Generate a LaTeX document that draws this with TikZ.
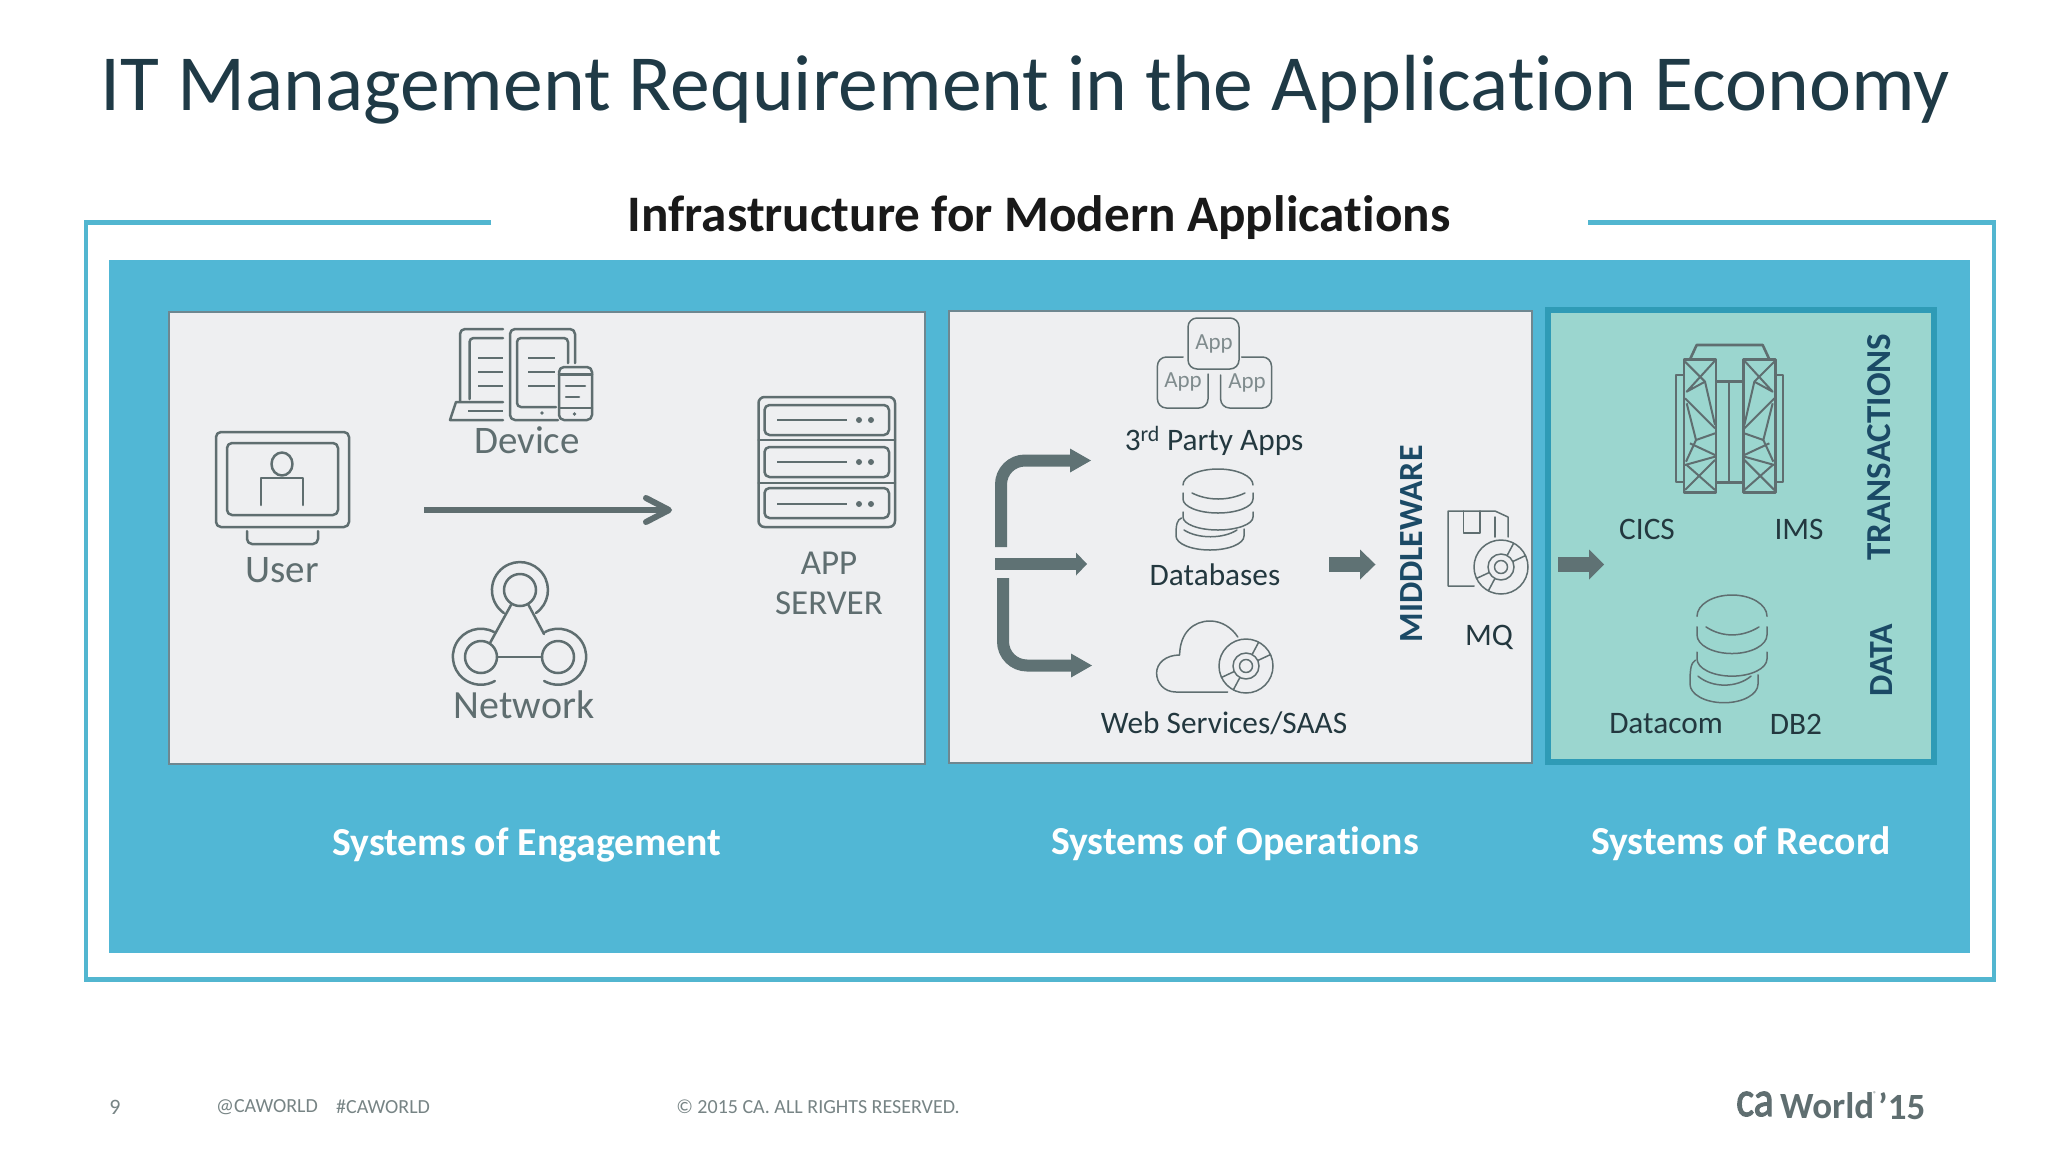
\documentclass[tikz,border=0pt]{standalone}
\usepackage{fontspec}
\setmainfont[Ligatures=NoCommon]{Carlito}
\newfontfamily\logof[FakeBold=2.5]{Carlito}
\definecolor{framec}{HTML}{52B6D0}
\definecolor{bluep}{HTML}{51B7D5}
\definecolor{panelf}{HTML}{EEEFF1}
\definecolor{panelb}{HTML}{6E8790}
\definecolor{greenf}{HTML}{9BD6CF}
\definecolor{greenb}{HTML}{2F9BB6}
\definecolor{icon}{HTML}{5F6E70}
\definecolor{iconb}{HTML}{5F7274}
\definecolor{darktxt}{HTML}{23383F}
\definecolor{navy}{HTML}{1B4A66}
\definecolor{titlec}{HTML}{1F3A46}
\newcommand{\fs}[1]{\fontsize{#1}{#1}\selectfont}
\tikzset{
  ic/.style={draw=icon,line width=2.5pt,line cap=round,line join=round},
  ict/.style={draw=icon,line width=1.5pt,line cap=round,line join=round},
  icthick/.style={draw=icon,line width=2.6pt,line join=round},
  panel/.style={draw=panelb,line width=2pt,fill=panelf},
  lab/.style={inner sep=0pt,text=icon,font=\fs{39}},
  labd/.style={inner sep=0pt,text=darktxt,font=\fs{31.3}},
  vert/.style={inner sep=0pt,text=navy,rotate=90,font=\fs{33.8}\bfseries},
  sys/.style={inner sep=0pt,text=white,font=\fs{39.7}\bfseries},
  foot/.style={inner sep=0pt,text=icon!85!white,font=\fs{20}},
  stem/.style={draw=iconb,line width=12pt},
  apptxt/.style={inner sep=0pt,text=icon!80!white,font=\fs{23}},
}
% database icon: top centre at (#1,#2), vertical scale #3
\newcommand{\dbicon}[3]{%
\begin{scope}[shift={(#1,#2)},yscale=#3]
\draw[ict] (-35,16) arc[start angle=180,end angle=360,x radius=35,y radius=16];
\draw[ict] (-26,24) .. controls (-10,32) and (10,32) .. (27,24);
\draw[ict] (-35,24) -- (-35,30) arc[start angle=180,end angle=0,x radius=35,y radius=14] -- (35,24);
\draw[ict] (-35,43) -- (-35,48) arc[start angle=180,end angle=0,x radius=35,y radius=13] -- (35,43);
\draw[ict] (-36.5,49) .. controls (-41,51) and (-42,55) .. (-42,67) arc[start angle=180,end angle=0,x radius=34,y radius=14] -- (26,60);
\draw[ict] (-34,61) .. controls (-20,70) and (5,70) .. (19,61);
\end{scope}}
% disc icon
\newcommand{\discicon}[2]{%
\begin{scope}[shift={(#1,#2)}]
\draw[ict] (0,0) circle[radius=27];
\draw[ict] (0,0) circle[radius=13];
\draw[ict] (0,0) circle[radius=6.5];
\foreach \a in {-25,-62,155,118}{\draw[ict] (\a:13) -- (\a:27);}
\end{scope}}
% one tower of the mainframe, in 3x zoom units
\newcommand{\tower}{%
\draw[icthick] (42,58) rectangle (138,458);
\draw[icthick,line width=2pt] (42,105) -- (18,105) -- (18,425) -- (42,425);
\draw[icthick,line width=2pt] (45,65) -- (105,125) -- (135,255);
\draw[icthick,line width=2pt] (135,62) -- (50,155) -- (105,125);
\draw[icthick,line width=2pt] (45,175) -- (135,265);
\draw[icthick,line width=2pt] (50,190) -- (78,300) -- (135,280);
\draw[icthick,line width=2pt] (78,300) -- (48,365);
\draw[icthick,line width=2pt] (60,310) -- (135,345);
\draw[icthick,line width=2pt] (45,375) -- (135,350);
\draw[icthick,line width=2pt] (135,360) -- (45,450);
\draw[icthick,line width=2pt] (50,375) -- (135,450);
}
\newcommand{\headat}[3]{\fill[iconb] (#1) ++(0,-#3) -- ++(#2,#3) -- ++(-#2,#3) -- cycle;}
\begin{document}
\begin{tikzpicture}[x=1pt,y=1pt,yscale=-1]
\useasboundingbox (0,0) rectangle (2048,1152);
\fill[white] (0,0) rectangle (2048,1152);
% title
\node[inner sep=0pt,text=titlec,font=\fs{79.6}] (title) at (1025,90) {IT Management Requirement in the Application Economy};
% outer frame
\coordinate (fa) at (491,222.5);
\coordinate (fb) at (1588,222.5);
\draw[framec,line width=4.5pt,line join=miter] (fa) -- (86,222.5) -- (86,979.5) -- (1994,979.5) -- (1994,222.5) -- (fb);
\node[inner sep=0pt,text=black!90,font=\fs{51.2}\bfseries] (sub) at (1039,218) {Infrastructure for Modern Applications};
\fill[bluep] (109,259.5) rectangle (1969.5,952.5);
% panels
\draw[panel] (168.5,312) rectangle (925,764);
\draw[panel] (949,311) rectangle (1532,763);
\draw[draw=greenb,fill=greenf,line width=5.5pt] (1548,310) rectangle (1934,762);
% section labels
\node[sys] (sysE) at (527,845) {Systems of Engagement};
\node[sys] (sysO) at (1235,844) {Systems of Operations};
\node[sys] (sysR) at (1741,844) {Systems of Record};
% user icon
\draw[ic,rounded corners=5] (216,432) rectangle (349,527);
\draw[ic,rounded corners=5] (227,443) rectangle (338,515);
\draw[ic] (282,464) ellipse[x radius=10.5,y radius=11.5];
\draw[ic] (261,505) -- (261,478) -- (303,478) -- (303,505);
\draw[ic,rounded corners=5] (247,531) -- (247,544) -- (318,544) -- (318,531);
\node[lab] (user) at (282,570) {User};
% device icon
\draw[ic,rounded corners=5] (503,329) -- (460,329) -- (460,401);
\draw[ic,rounded corners=4] (503,338) -- (469.5,338) -- (469.5,399);
\foreach \yy in {358,372,386}{\draw[icthick,line width=2.4pt] (478,\yy) -- (503,\yy);\draw[icthick,line width=2.4pt] (528,\yy) -- (555,\yy);}
\draw[ic] (503,402) -- (456,402) -- (450,420) -- (503,420);
\draw[icthick,line width=2.4pt] (468,411) -- (503,411);
\draw[ic,rounded corners=5] (558,420) -- (510,420) -- (510,329) -- (575,329) -- (575,363);
\draw[ic,rounded corners=4] (556,407) -- (517,407) -- (517,338) -- (568,338) -- (568,363);
\fill[icon] (542,413) circle[radius=1.8];
\draw[ic,rounded corners=5] (559,367) rectangle (592,420);
\draw[ic] (559,374.5) -- (592,374.5);
\draw[ic] (559,408) -- (592,408);
\draw[ic] (566,386) -- (585,386);
\draw[ic] (566,397) -- (579,397);
\fill[icon] (574.5,414) circle[radius=1.8];
\node[lab] (device) at (527,440) {Device};
% network icon
\draw[ic] (520,590) circle[radius=16];
\draw[ic] (481,657) circle[radius=16];
\draw[ic] (558,657) circle[radius=16];
\draw[ic] (536,613) arc[start angle=55,end angle=-235,radius=28];
\draw[ic] (528,604) -- (544,634);
\draw[ic] (511,605) -- (490,643);
\draw[ic] (497,657) -- (542,657);
\draw[ic] (494,632) arc[start angle=-62,end angle=-300,radius=28];
\draw[ic] (545,632) arc[start angle=-118,end angle=120,radius=28];
\node[lab,font=\fs{40}] (network) at (524,705) {Network};
% arrow user to server
\coordinate (arrS) at (424,510);
\coordinate (arrE) at (669,510);
\draw[icon,line width=6pt] (arrS) -- (666,510);
\draw[icon,line width=6pt,line cap=round,line join=round] (646,498) -- (arrE) -- (646,522);
% server icon
\draw[ic,rounded corners=6] (758.5,397) rectangle (895,527);
\draw[ic] (758.5,440) -- (895,440);
\draw[ic] (758.5,483) -- (895,483);
\foreach \ya/\yb/\yc in {405/435/420,447/477/462,488/518/504}{
  \draw[ic,rounded corners=5] (764.5,\ya) rectangle (889,\yb);
  \draw[icthick,line width=2.4pt] (777,\yc) -- (846.5,\yc);
  \fill[icon] (859,\yc) circle[radius=3];
  \fill[icon] (871,\yc) circle[radius=3];
}
\node[lab,font=\fs{35}] (app) at (829,563) {APP};
\node[lab,font=\fs{35}] (server) at (829,603) {SERVER};
% apps icon
\draw[ict,rounded corners=9] (1188,318) rectangle (1239,369);
\draw[ict,rounded corners=9] (1183,357) -- (1157.4,357) -- (1157.4,408) -- (1208,408) -- (1208,374);
\draw[ict,rounded corners=9] (1241.6,357) -- (1271.5,357) -- (1271.5,408) -- (1220.6,408) -- (1220.6,375);
\node[apptxt] (app1) at (1214,344) {App};
\node[apptxt] (app2) at (1183,382) {App};
\node[apptxt] (app3) at (1247,383) {App};
\node[labd] (third) at (1214,441) {3\textsuperscript{rd} Party Apps};
\dbicon{1218}{469}{1}
\node[labd] (dbs) at (1215,575) {Databases};
% cloud + disc
\draw[ict] (1227.5,692) -- (1176,692) .. controls (1164,692) and (1156.6,683) .. (1156.6,673) .. controls (1156.6,663) and (1166,655) .. (1179.6,655) .. controls (1180,632) and (1194,621) .. (1210,621) .. controls (1222,621) and (1232,628) .. (1237.8,637);
\discicon{1246}{666}
\node[labd] (web) at (1224,723) {Web Services/SAAS};
% bracket arrows
\coordinate (b1s) at (1001,547);
\coordinate (b1e) at (1070,460.5);
\coordinate (b2s) at (995,564);
\coordinate (b2e) at (1076,564);
\coordinate (b3s) at (1003,578);
\coordinate (b3e) at (1071,665.5);
\draw[stem,rounded corners=24] (b1s) -- (1001,460.5) -- (b1e);
\draw[stem] (b2s) -- (b2e);
\draw[stem,rounded corners=24] (b3s) -- (1003,665.5) -- (b3e);
\headat{b1e}{21}{12}
\headat{b2e}{11}{11.5}
\headat{b3e}{21}{12}
% middleware arrow
\coordinate (m1) at (1329,564.5);
\coordinate (m2) at (1360,564.5);
\draw[stem,line width=15pt] (m1) -- (m2);
\headat{m2}{15.5}{15}
\node[vert] (mid) at (1412,544) {MIDDLEWARE};
% MQ icon
\draw[ict] (1508,537) -- (1508,517) -- (1495,511) -- (1448,511) -- (1448,586) -- (1474,586);
\draw[ict] (1495,517) -- (1495,537);
\draw[ict] (1463.6,511) -- (1463.6,533) -- (1480,533) -- (1480,511);
\discicon{1501}{567}
\node[labd] (mq) at (1489,637) {MQ};
% record arrow
\coordinate (r1) at (1558,564.5);
\coordinate (r2) at (1589,564.5);
\draw[stem,line width=15pt] (r1) -- (r2);
\headat{r2}{15}{15}
% mainframe
\begin{scope}[shift={(1670,340)},scale=1/3]
\draw[icthick] (60,58) -- (80,15) -- (278,15) -- (298,58);
\draw[icthick] (138,125) -- (220,125);
\draw[icthick] (138,428) -- (220,428);
\draw[icthick,line width=2pt] (178,125) -- (178,428);
\tower
\begin{scope}[xshift=358,xscale=-1]
\tower
\end{scope}
\end{scope}
\node[labd] (cics) at (1647,529) {CICS};
\node[labd] (ims) at (1799,529) {IMS};
\dbicon{1732}{595}{1.33}
\node[labd] (datacom) at (1666,724) {Datacom};
\node[labd] (dbtwo) at (1796,724) {DB2};
\node[vert,font=\fs{35}\bfseries] (trans) at (1879,447) {TRANSACTIONS};
\node[vert] (data) at (1882,660) {DATA};
% footer
\node[foot,font=\fs{22}] (page) at (115,1107) {9};
\node[foot,anchor=west] (tw) at (216,1107) {@CAWORLD};
\node[foot,anchor=west] (hash) at (336,1107) {\#CAWORLD};
\node[foot] (copy) at (818,1107) {© 2015 CA. ALL RIGHTS RESERVED.};
% logo
\node[inner sep=0pt,text=icon,font=\fs{50}\logof] (logoca) at (1755,1104) {\scalebox{.84}[1]{ca}};
\node[inner sep=0pt,text=icon,font=\fs{37}\bfseries,anchor=west] (logow) at (1780,1106) {World};
\node[inner sep=0pt,text=icon,font=\fs{7}] (logor) at (1875,1094) {®};
\node[inner sep=0pt,text=icon,font=\fs{37}\bfseries,anchor=west] (logoy) at (1878,1106) {’15};
\end{tikzpicture}
\end{document}
